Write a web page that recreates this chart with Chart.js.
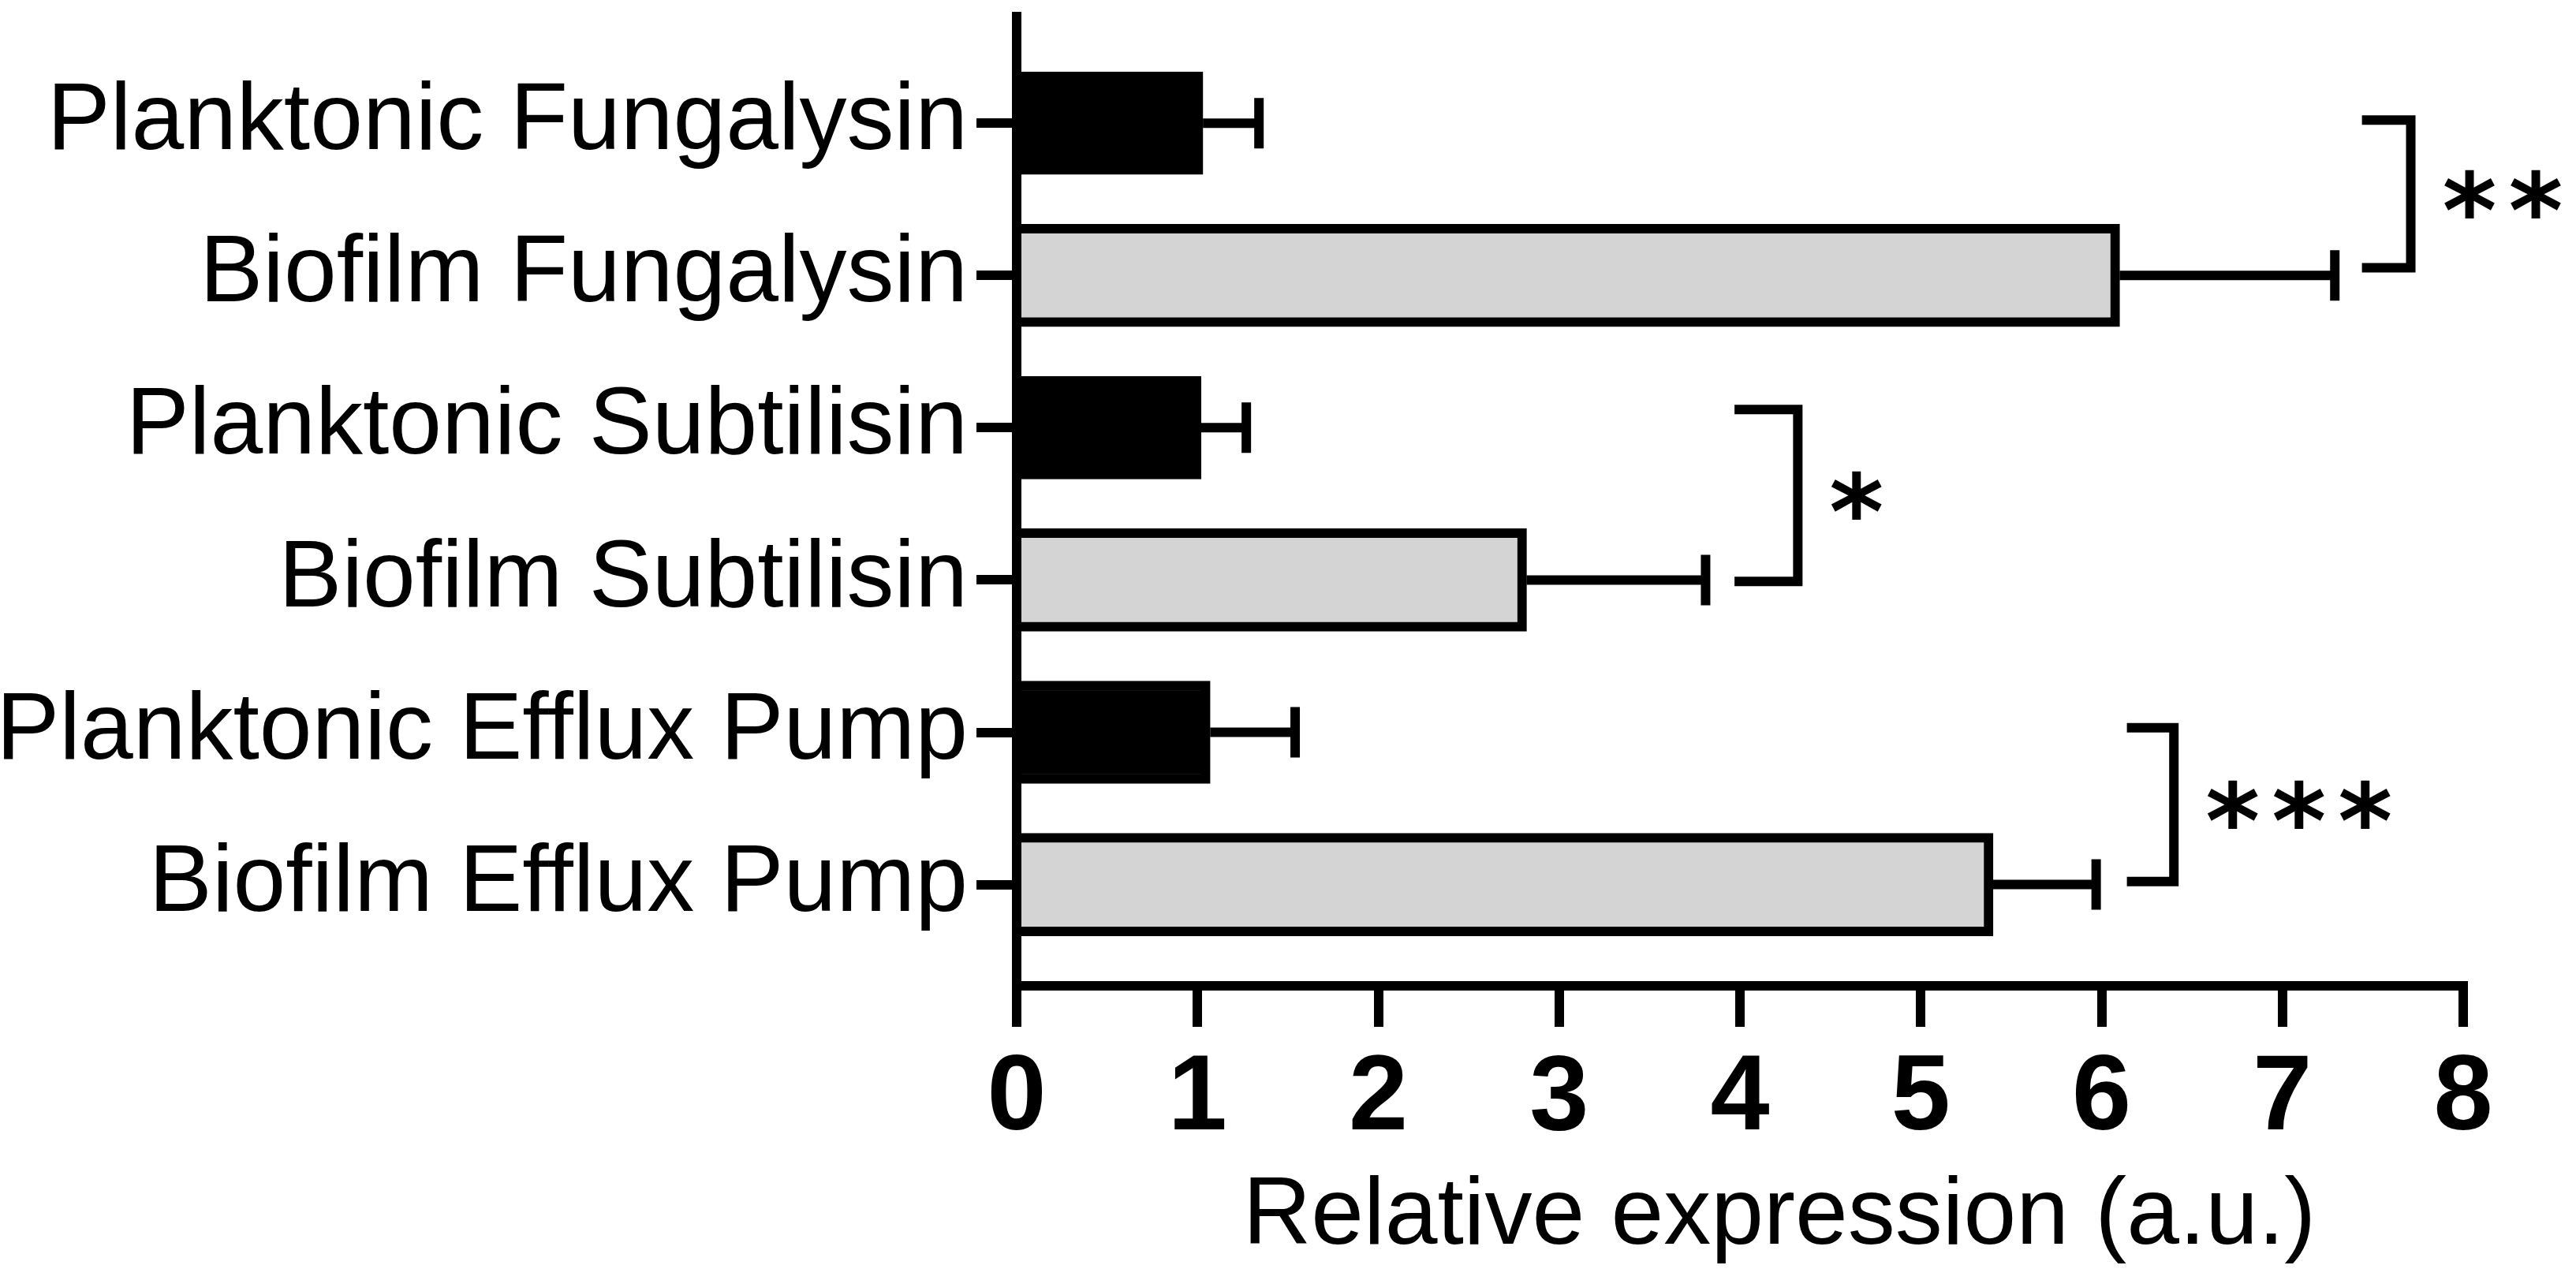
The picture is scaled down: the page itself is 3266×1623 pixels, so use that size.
<!DOCTYPE html>
<html lang="en">
<head>
    <meta charset="UTF-8">
    <title>Relative expression</title>
    <script src="https://cdn.jsdelivr.net/npm/chart.js"></script>
    <style>
        html, body {
            margin: 0;
            padding: 0;
            background: #ffffff;
        }
        #wrap {
            width: 3266px;
            height: 1623px;
            position: relative;
        }
    </style>
</head>
<body>
    <div id="wrap"><canvas id="chart"></canvas></div>

    <script>
        // Categories, top to bottom
        const categories = [
            'Planktonic Fungalysin',
            'Biofilm Fungalysin',
            'Planktonic Subtilisin',
            'Biofilm Subtilisin',
            'Planktonic Efflux Pump',
            'Biofilm Efflux Pump'
        ];
        const means = [1.03, 6.1, 1.02, 2.82, 1.07, 5.4];
        const errors = [0.31, 1.19, 0.25, 0.99, 0.47, 0.57];
        const barColors = ['#000000', '#d4d4d4', '#000000', '#d4d4d4', '#000000', '#d4d4d4'];
        const xTicks = [0, 1, 2, 3, 4, 5, 6, 7, 8];

        // Significance brackets (category positions and x values)
        const bracketFrom = [-0.02, 1.88, 3.97];
        const bracketTo = [0.95, 3.01, 4.98];
        const bracketArm = [7.44, 3.97, 6.14];
        const bracketSpine = [7.71, 4.32, 6.40];
        const bracketLabels = ['**', '*', '***'];

        const axisTitle = 'Relative expression (a.u.)';
        const fontFamily = '"Liberation Sans", Arial, Helvetica, sans-serif';
        const starFamily = '"DejaVu Sans", sans-serif';

        Chart.defaults.font.family = fontFamily;
        Chart.defaults.color = '#000000';

        // Error bars, brackets, asterisks and the x axis title
        const annotations = {
            id: 'annotations',
            afterDatasetsDraw(chart) {
                const ctx = chart.ctx;
                const xs = chart.scales.x;
                const ys = chart.scales.y;
                ctx.save();
                ctx.strokeStyle = '#000000';
                ctx.fillStyle = '#000000';
                ctx.lineWidth = 12;
                ctx.lineCap = 'butt';
                ctx.lineJoin = 'miter';

                means.forEach((m, i) => {
                    const yc = ys.getPixelForValue(i);
                    const x0 = xs.getPixelForValue(m);
                    const x1 = xs.getPixelForValue(m + errors[i]);
                    ctx.beginPath();
                    ctx.moveTo(x0, yc);
                    ctx.lineTo(x1, yc);
                    ctx.moveTo(x1, yc - 32);
                    ctx.lineTo(x1, yc + 32);
                    ctx.stroke();
                });

                // fit the asterisk glyph to the size used in the figure
                ctx.font = 'bold 100px ' + starFamily;
                const probe = ctx.measureText('*');
                const probeH = probe.actualBoundingBoxAscent + probe.actualBoundingBoxDescent;
                const starSize = 100 * 62 / probeH;
                ctx.font = 'bold ' + starSize + 'px ' + starFamily;
                const star = ctx.measureText('*');
                ctx.textAlign = 'left';
                ctx.textBaseline = 'alphabetic';

                bracketLabels.forEach((label, b) => {
                    const y0 = ys.getPixelForValue(bracketFrom[b]);
                    const y1 = ys.getPixelForValue(bracketTo[b]);
                    const xa = xs.getPixelForValue(bracketArm[b]);
                    const xv = xs.getPixelForValue(bracketSpine[b]);
                    ctx.beginPath();
                    ctx.moveTo(xa, y0);
                    ctx.lineTo(xv, y0);
                    ctx.lineTo(xv, y1);
                    ctx.lineTo(xa, y1);
                    ctx.stroke();

                    const yMid = (y0 + y1) / 2;
                    const base = yMid + (star.actualBoundingBoxAscent - star.actualBoundingBoxDescent) / 2;
                    for (let k = 0; k < label.length; k++) {
                        const inkLeft = xv + 42 + k * 84;
                        ctx.fillText('*', inkLeft + star.actualBoundingBoxLeft, base);
                    }
                });

                ctx.font = '120px ' + fontFamily;
                ctx.textAlign = 'center';
                ctx.fillText(axisTitle, (xs.left + xs.right) / 2 + 50, chart.height - 46);
                ctx.restore();
            }
        };

        const ctx = document.getElementById('chart').getContext('2d');
        const chart = new Chart(ctx, {
            type: 'bar',
            data: {
                datasets: [{
                    label: 'Relative expression',
                    data: means.map((m, i) => ({ x: m, y: i })),
                    backgroundColor: barColors,
                    borderColor: '#000000',
                    borderWidth: 12,
                    borderSkipped: 'start',
                    barThickness: 130
                }]
            },
            options: {
                indexAxis: 'y',
                responsive: true,
                maintainAspectRatio: false,
                devicePixelRatio: 1,
                animation: false,
                layout: {
                    padding: { top: 21, right: 143, left: 0, bottom: 0 }
                },
                plugins: {
                    legend: { display: false },
                    tooltip: { enabled: false }
                },
                scales: {
                    x: {
                        type: 'linear',
                        position: 'bottom',
                        min: 0,
                        max: 8,
                        offset: false,
                        afterBuildTicks: s => { s.ticks = xTicks.map(v => ({ value: v })); },
                        afterFit: s => { s.height = 373; s.paddingLeft = 0; s.paddingRight = 0; },
                        ticks: {
                            font: { size: 135, weight: 'bold' },
                            color: '#000000',
                            padding: 12,
                            maxRotation: 0
                        },
                        grid: {
                            offset: false,
                            drawOnChartArea: false,
                            drawTicks: true,
                            tickLength: 52,
                            lineWidth: 12,
                            color: '#000000'
                        },
                        border: { display: true, width: 12, color: '#000000' }
                    },
                    y: {
                        type: 'linear',
                        reverse: true,
                        offset: false,
                        min: -0.7,
                        max: 5.665,
                        afterBuildTicks: s => { s.ticks = categories.map((c, i) => ({ value: i })); },
                        afterFit: s => { s.width = 1289; s.paddingTop = 0; s.paddingBottom = 0; },
                        ticks: {
                            callback: v => categories[v],
                            font: { size: 120 },
                            color: '#000000',
                            padding: 11,
                            autoSkip: false
                        },
                        grid: {
                            offset: false,
                            drawOnChartArea: false,
                            drawTicks: true,
                            tickLength: 51,
                            lineWidth: 12,
                            color: '#000000'
                        },
                        border: { display: true, width: 12, color: '#000000' }
                    }
                }
            },
            plugins: [annotations]
        });
    </script>
</body>
</html>
